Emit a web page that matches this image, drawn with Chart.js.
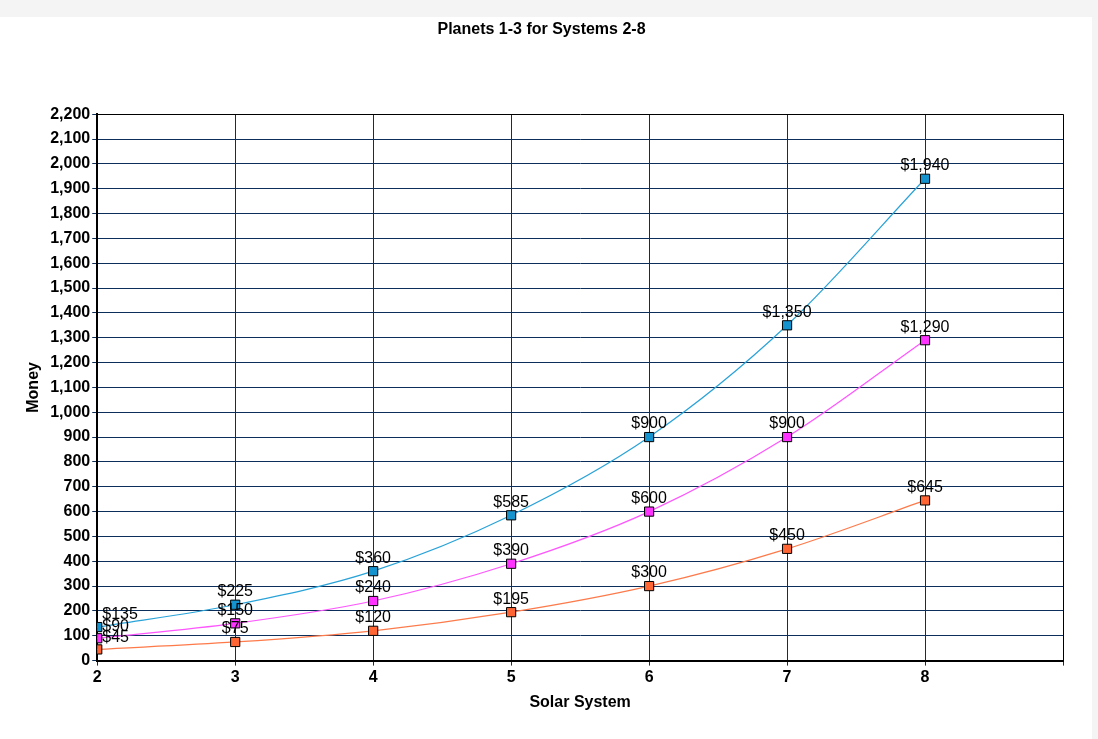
<!DOCTYPE html>
<html>
<head>
<meta charset="utf-8">
<script src="https://cdn.jsdelivr.net/npm/chart.js@4"></script>
<style>
  html, body { margin: 0; padding: 0; background: #f4f4f4; }
  #wrap { position: absolute; left: 0; top: 17px; width: 1092px; height: 722px; background: #fff; }
</style>
</head>
<body>
<div id="wrap"><canvas id="chart"></canvas></div>
<script>
const systems = [2, 3, 4, 5, 6, 7, 8];
const planet3 = [135, 225, 360, 585, 900, 1350, 1940];
const planet2 = [90, 150, 240, 390, 600, 900, 1290];
const planet1 = [45, 75, 120, 195, 300, 450, 645];
const seriesNames = ['Planet 3', 'Planet 2', 'Planet 1'];

const FONT = "'Liberation Sans', Arial, sans-serif";
const GRID = '#0b2f5a';

function pts(values) {
    return systems.map((x, i) => ({ x: x, y: values[i] }));
}

function makeSet(label, values, line, fill) {
    return {
        label: label,
        data: pts(values),
        borderColor: line,
        backgroundColor: fill,
        borderWidth: 1.2,
        pointStyle: 'rect',
        pointRadius: 6.5,
        pointBorderColor: '#000',
        pointBorderWidth: 1,
        pointBackgroundColor: fill,
        cubicInterpolationMode: 'monotone',
        fill: false,
    };
}

const valueLabels = {
    id: 'valueLabels',
    afterDatasetsDraw(chart) {
        const ctx = chart.ctx;
        ctx.save();
        ctx.font = '16px ' + FONT;
        ctx.fillStyle = '#000';
        ctx.textBaseline = 'middle';
        chart.data.datasets.forEach((ds, di) => {
            chart.getDatasetMeta(di).data.forEach((p, i) => {
                const text = '$' + ds.data[i].y.toLocaleString('en-US');
                if (i === 0) {
                    ctx.textAlign = 'left';
                    ctx.fillText(text, p.x + 5, p.y - 12);
                } else {
                    ctx.textAlign = 'center';
                    ctx.fillText(text, p.x, p.y - 13);
                }
            });
        });
        ctx.restore();
    }
};

new Chart(document.getElementById('chart'), {
    type: 'line',
    data: {
        datasets: [
            makeSet(seriesNames[0], planet3, '#2aa3d8', '#1593cf'),
            makeSet(seriesNames[1], planet2, '#ff55ff', '#ff33ff'),
            makeSet(seriesNames[2], planet1, '#ff7a4a', '#ff6633'),
        ],
    },
    options: {
        responsive: true,
        maintainAspectRatio: false,
        animation: false,
        layout: { padding: { left: 20, right: 29, top: 0, bottom: 23 } },
        plugins: {
            legend: { display: false },
            tooltip: { enabled: false },
            title: {
                display: true,
                text: 'Planets 1-3 for Systems 2-8',
                color: '#000',
                font: { family: FONT, size: 16, weight: 'bold' },
                padding: { top: 3, bottom: 75 },
            },
        },
        scales: {
            x: {
                type: 'linear',
                min: 2,
                max: 9,
                ticks: {
                    stepSize: 1,
                    color: '#000',
                    font: { family: FONT, size: 16, weight: 'bold' },
                    callback: (v) => (v === 9 ? '' : v),
                    padding: 2,
                },
                grid: {
                    color: (c) => (c.tick && c.tick.value === 9 ? '#000' : GRID),
                    lineWidth: 1,
                    tickLength: 5,
                    tickColor: GRID,
                },
                border: { color: '#000', width: 2 },
                title: {
                    display: true,
                    text: 'Solar System',
                    color: '#000',
                    font: { family: FONT, size: 16, weight: 'bold' },
                    padding: { top: 4 },
                },
            },
            y: {
                min: 0,
                max: 2200,
                ticks: {
                    stepSize: 100,
                    color: '#000',
                    font: { family: FONT, size: 16, weight: 'bold' },
                    callback: (v) => v.toLocaleString('en-US'),
                    padding: 2,
                },
                grid: {
                    color: (c) => (c.tick && c.tick.value === 2200 ? '#000' : GRID),
                    lineWidth: 1,
                    tickLength: 5,
                    tickColor: GRID,
                },
                border: { color: '#000', width: 2 },
                title: {
                    display: true,
                    text: 'Money',
                    color: '#000',
                    font: { family: FONT, size: 16, weight: 'bold' },
                    padding: { bottom: 5 },
                },
            },
        },
    },
    plugins: [valueLabels],
});
</script>
</body>
</html>
